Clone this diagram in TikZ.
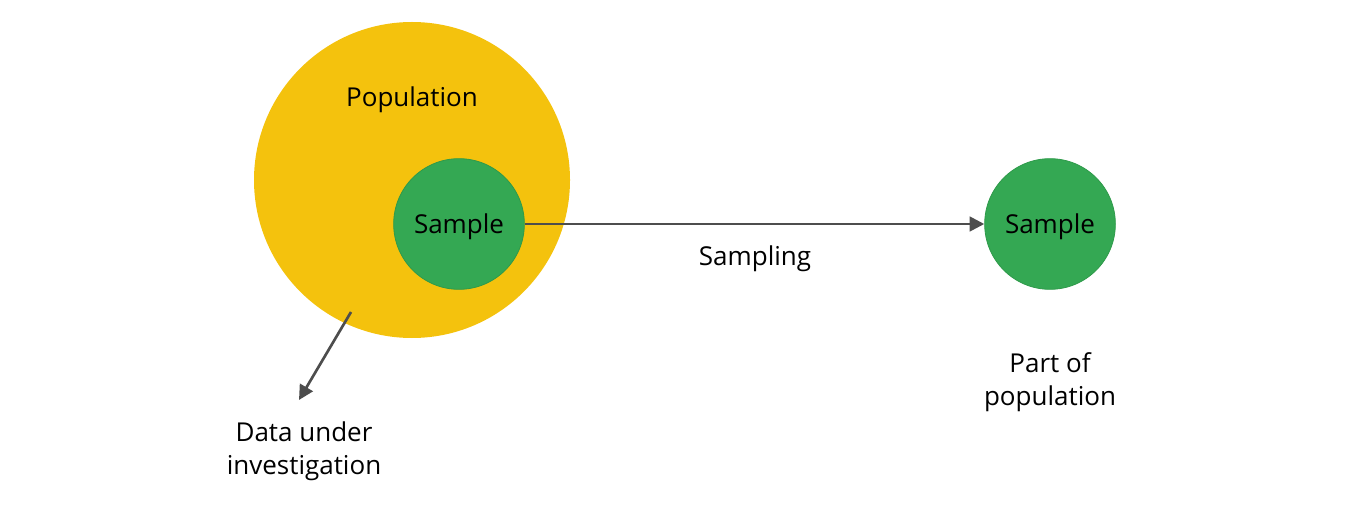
\documentclass[tikz,border=0pt]{standalone}
\usepackage{fontspec}
\setmainfont{Open Sans}
\usetikzlibrary{arrows.meta, positioning}
\definecolor{popyellow}{HTML}{F4C20D}
\definecolor{sampgreen}{HTML}{34A853}
\definecolor{sampedge}{HTML}{2E9A4A}
\definecolor{arrgray}{HTML}{4D4D4D}
\tikzset{
  lbl/.style={font=\fontsize{19.5}{25}\selectfont, align=center, text=black},
  popcircle/.style={circle, fill=popyellow, inner sep=0pt, minimum size=237pt},
  sampcircle/.style={circle, fill=sampgreen, draw=sampedge, line width=0.6pt, inner sep=0pt, minimum size=98pt, lbl},
  arr/.style={draw=arrgray, line width=2pt, -{Triangle[length=11pt, width=11pt]}}
}
\begin{document}
\begin{tikzpicture}[x=0.75pt, y=-0.75pt]
			\useasboundingbox (0,0) rectangle (1358,513);
			\node[popcircle] (pop) at (412,180) {};
			\node[lbl] (poplbl) at (412,100) {Population};
			\node[sampcircle] (samp) at (459,224) {};
			\node[lbl] (samplbl) at (459,227) {Sample};
			\node[sampcircle] (samp2) at (1050,224) {};
			\node[lbl] (samplbl2) at (1050,227) {Sample};
			
			\node[lbl] (sampling) at (755,259) {Sampling};
			\node[lbl] (data) at (304,451) {Data under\\investigation};
			\node[lbl] (part) at (1050,382) {Part of\\population};
			
			\coordinate (dstart) at (351,312);
			\coordinate (dend) at (299,400);
			
			\draw[arr] (samp) -- (samp2);
			\draw[arr] (dstart) -- (dend);
		\end{tikzpicture}
\end{document}
